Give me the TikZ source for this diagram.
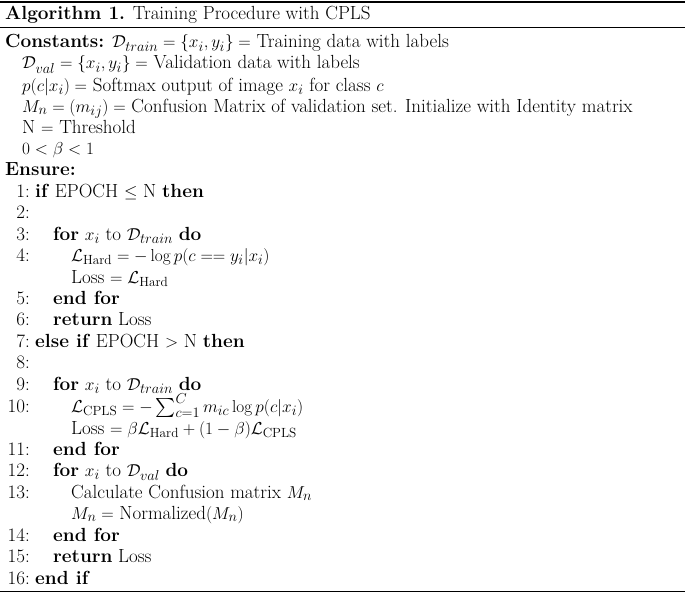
\documentclass[tikz,border=0pt]{standalone}
\usepackage{amsmath,amssymb}
\begin{document}
\begin{tikzpicture}[x=1pt,y=-1pt,
  txt/.style={anchor=base west,inner sep=0pt,font=\fontsize{19}{22}\selectfont},
  num/.style={anchor=base east,inner sep=0pt,font=\fontsize{19}{22}\selectfont}]
\useasboundingbox (0,0) rectangle (685,594);
\draw[line width=1.2pt] (0,2) -- (685,2);
\draw[line width=0.8pt] (0,27) -- (685,27);
\draw[line width=0.8pt] (0,591) -- (685,591);
\node[txt] (t) at (5,20) {\textbf{Algorithm 1.} Training Procedure with CPLS};
\node[txt] (c1) at (5,48) {\textbf{Constants:} $\mathcal{D}_{train}=\{x_i,y_i\}=$ Training data with labels};
\node[txt] (c2) at (22,69) {$\mathcal{D}_{val}=\{x_i,y_i\}=$ Validation data with labels};
\node[txt] (c3) at (22,91) {$p(c|x_i)=$ Softmax output of image $x_i$ for class $c$};
\node[txt] (c4) at (22,112) {$M_n=(m_{ij})=$ Confusion Matrix of validation set. Initialize with Identity matrix};
\node[txt] (c5) at (22,133) {N $=$ Threshold};
\node[txt] (c6) at (22,154) {$0<\beta<1$};
\node[txt] (en) at (5,175) {\textbf{Ensure:}};
\foreach \n/\y in {1/197,2/218,3/240,4/261,5/304,6/325,7/347,8/368,9/390,10/412,11/455,12/476,13/498,14/541,15/562,16/584}
  \node[num] (n\n) at (30,\y) {\n:};
\node[txt] (l1) at (35,197) {\textbf{if} EPOCH $\le$ N \textbf{then}};
\node[txt] (l3) at (53,240) {\textbf{for} $x_i$ to $\mathcal{D}_{train}$ \textbf{do}};
\node[txt] (l4) at (71,261) {$\mathcal{L}_{\text{Hard}}=-\log p(c==y_i|x_i)$};
\node[txt] (l4b) at (71,283) {Loss $=\mathcal{L}_{\text{Hard}}$};
\node[txt] (l5) at (53,304) {\textbf{end for}};
\node[txt] (l6) at (53,325) {\textbf{return} Loss};
\node[txt] (l7) at (35,347) {\textbf{else if} EPOCH $>$ N \textbf{then}};
\node[txt] (l9) at (53,390) {\textbf{for} $x_i$ to $\mathcal{D}_{train}$ \textbf{do}};
\node[txt] (l10) at (71,412) {$\mathcal{L}_{\text{CPLS}}=-\sum_{c=1}^{C} m_{ic}\log p(c|x_i)$};
\node[txt] (l10b) at (71,434) {Loss $=\beta\mathcal{L}_{\text{Hard}}+(1-\beta)\mathcal{L}_{\text{CPLS}}$};
\node[txt] (l11) at (53,455) {\textbf{end for}};
\node[txt] (l12) at (53,476) {\textbf{for} $x_i$ to $\mathcal{D}_{val}$ \textbf{do}};
\node[txt] (l13) at (71,498) {Calculate Confusion matrix $M_n$};
\node[txt] (l13b) at (71,519) {$M_n=$ Normalized$(M_n)$};
\node[txt] (l14) at (53,541) {\textbf{end for}};
\node[txt] (l15) at (53,562) {\textbf{return} Loss};
\node[txt] (l16) at (35,584) {\textbf{end if}};
\end{tikzpicture}
\end{document}
